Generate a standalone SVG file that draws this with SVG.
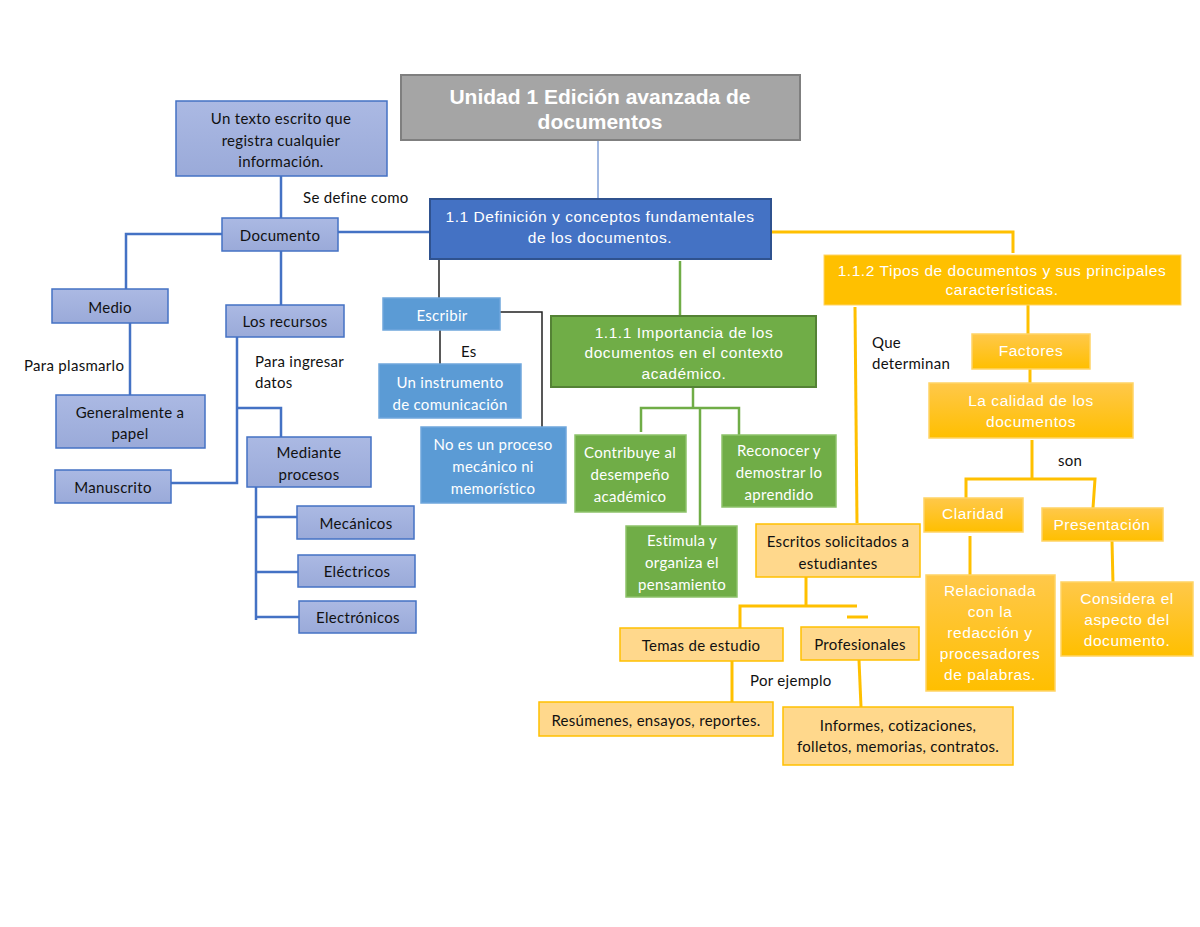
<svg xmlns="http://www.w3.org/2000/svg" width="1200" height="927" viewBox="0 0 1200 927">
<defs>
<linearGradient id="gb" x1="0" y1="0" x2="0" y2="1"><stop offset="0" stop-color="#abb9e3"/><stop offset="1" stop-color="#9aaad9"/></linearGradient>
<linearGradient id="gy" x1="0" y1="0" x2="0" y2="1"><stop offset="0" stop-color="#ffc84a"/><stop offset="1" stop-color="#ffbf00"/></linearGradient>
</defs>
<style>
.bp{fill:url(#gb);stroke:#4472c4;stroke-width:1.5}
.bl{fill:#5b9bd5;stroke:#6fa6dc;stroke-width:1.5}
.gr{fill:#70ad47;stroke:#8dc26a;stroke-width:1.5}
.yl{fill:url(#gy);stroke:#ffd466;stroke-width:1.5}
.lo{fill:#ffd88c;stroke:#ffc000;stroke-width:1.5}
.t{font-family:Lato,"Open Sans",sans-serif;font-size:15px;fill:#111;text-anchor:middle;letter-spacing:0.3px}
.tl{font-family:Lato,"Open Sans",sans-serif;font-size:15px;fill:#111;letter-spacing:0.3px}
.tw{font-family:Lato,"Open Sans",sans-serif;font-size:15px;fill:#fff;text-anchor:middle;letter-spacing:0.3px}
.ta{font-family:"Liberation Sans",Arial,sans-serif;font-size:15.5px;fill:#fff;text-anchor:middle;letter-spacing:0.55px}
.cb{stroke:#4472c4;stroke-width:2.5;fill:none}
.ck{stroke:#222;stroke-width:1.5;fill:none}
.cg{stroke:#70ad47;stroke-width:2.5;fill:none}
.cy{stroke:#ffc000;stroke-width:3;fill:none}
</style>
<rect width="1200" height="927" fill="#fff"/>
<g id="connectors">
<line x1="598" y1="141" x2="598" y2="199" stroke="#4472c4" stroke-width="1"/>
<line class="cb" x1="281" y1="176" x2="281" y2="218"/>
<line class="cb" x1="338" y1="232" x2="430" y2="232" stroke-width="3"/>
<polyline class="cb" points="222,234 126,234 126,289"/>
<line class="cb" x1="130" y1="323" x2="130" y2="395"/>
<line class="cb" x1="281" y1="251" x2="281" y2="305"/>
<polyline class="cb" points="237,337 237,483 171,483"/>
<polyline class="cb" points="237,408 281,408 281,437"/>
<line class="cb" x1="256" y1="487" x2="256" y2="620" stroke-width="3"/>
<line class="cb" x1="256" y1="517" x2="297" y2="517"/>
<line class="cb" x1="256" y1="572" x2="298" y2="572" stroke-width="3"/>
<line class="cb" x1="256" y1="617" x2="299" y2="617"/>
<line class="ck" x1="439" y1="259" x2="439" y2="298"/>
<line class="ck" x1="440" y1="330" x2="440" y2="364"/>
<polyline class="ck" points="494,312 542,312 542,427"/>
<line class="cg" x1="680" y1="261" x2="680" y2="316"/>
<line class="cg" x1="693" y1="387" x2="693" y2="408"/>
<polyline class="cg" points="641,432 641,408 739,408 739,435"/>
<line class="cg" x1="700" y1="408" x2="700" y2="526"/>
<polyline class="cy" points="771,232 1013,232 1013,253"/>
<line class="cy" x1="855" y1="307" x2="857" y2="523"/>
<line class="cy" x1="1028" y1="305" x2="1028" y2="334"/>
<line class="cy" x1="1030" y1="369" x2="1030" y2="383"/>
<line class="cy" x1="1032" y1="440" x2="1032" y2="479"/>
<polyline class="cy" points="966,498 966,479 1095,479 1093,508"/>
<line class="cy" x1="970" y1="536" x2="970" y2="575"/>
<line class="cy" x1="1112" y1="541" x2="1113" y2="584"/>
<line class="cy" x1="806" y1="577" x2="806" y2="606"/>
<polyline class="cy" points="740,628 740,606 857,606"/>
<line class="cy" x1="847" y1="617" x2="868" y2="617"/>
<line class="cy" x1="732" y1="661" x2="732" y2="702"/>
<line class="cy" x1="859" y1="660" x2="861" y2="707"/>
</g>
<g id="title">
<rect x="401" y="75" width="399" height="65" fill="#a5a5a5" stroke="#7f7f7f" stroke-width="2"/>
<text x="600" y="104" font-family="Liberation Sans,Arial,sans-serif" font-size="21" font-weight="bold" fill="#fff" text-anchor="middle">Unidad 1 Edición avanzada de</text>
<text x="600" y="129" font-family="Liberation Sans,Arial,sans-serif" font-size="21" font-weight="bold" fill="#fff" text-anchor="middle">documentos</text>
</g>
<g id="definicion">
<rect class="bp" x="176" y="101" width="211" height="75"/>
<text class="t" x="281" y="124">Un texto escrito que</text>
<text class="t" x="281" y="146">registra cualquier</text>
<text class="t" x="281" y="167">información.</text>
</g>
<text class="tl" x="303" y="203">Se define como</text>
<g id="documento">
<rect class="bp" x="222" y="218" width="116" height="33"/>
<text class="t" x="280" y="241">Documento</text>
</g>
<g id="medio">
<rect class="bp" x="52" y="289" width="116" height="34"/>
<text class="t" x="110" y="313">Medio</text>
</g>
<text class="tl" x="24" y="371">Para plasmarlo</text>
<g id="generalmente">
<rect class="bp" x="56" y="395" width="149" height="53"/>
<text class="t" x="130" y="418">Generalmente a</text>
<text class="t" x="130" y="439">papel</text>
</g>
<g id="manuscrito">
<rect class="bp" x="55" y="470" width="116" height="33"/>
<text class="t" x="113" y="493">Manuscrito</text>
</g>
<g id="recursos">
<rect class="bp" x="226" y="305" width="118" height="32"/>
<text class="t" x="285" y="327">Los recursos</text>
</g>
<text class="tl" x="255" y="367">Para ingresar</text>
<text class="tl" x="255" y="388">datos</text>
<g id="mediante">
<rect class="bp" x="247" y="437" width="124" height="50"/>
<text class="t" x="309" y="458">Mediante</text>
<text class="t" x="309" y="480">procesos</text>
</g>
<g id="mecanicos">
<rect class="bp" x="297" y="506" width="117" height="33"/>
<text class="t" x="356" y="529">Mecánicos</text>
</g>
<g id="electricos">
<rect class="bp" x="298" y="555" width="117" height="32"/>
<text class="t" x="357" y="577">Eléctricos</text>
</g>
<g id="electronicos">
<rect class="bp" x="299" y="601" width="117" height="32"/>
<text class="t" x="358" y="623">Electrónicos</text>
</g>
<g id="n11">
<rect x="430" y="199" width="341" height="60" fill="#4472c4" stroke="#2f528f" stroke-width="2"/>
<text class="ta" x="600" y="222">1.1 Definición y conceptos fundamentales</text>
<text class="ta" x="600" y="243">de los documentos.</text>
</g>
<g id="escribir">
<rect class="bl" x="383" y="298" width="117" height="32"/>
<text class="tw" x="442" y="321">Escribir</text>
</g>
<text class="tl" x="461" y="357">Es</text>
<g id="instrumento">
<rect class="bl" x="379" y="364" width="142" height="54"/>
<text class="tw" x="450" y="388">Un instrumento</text>
<text class="tw" x="450" y="410">de comunicación</text>
</g>
<g id="noes">
<rect class="bl" x="421" y="427" width="145" height="76"/>
<text class="tw" x="493" y="450">No es un proceso</text>
<text class="tw" x="493" y="472">mecánico ni</text>
<text class="tw" x="493" y="494">memorístico</text>
</g>
<g id="n111">
<rect x="551" y="316" width="265" height="71" fill="#70ad47" stroke="#548235" stroke-width="2"/>
<text class="ta" x="684" y="338">1.1.1 Importancia de los</text>
<text class="ta" x="684" y="358">documentos en el contexto</text>
<text class="ta" x="684" y="379">académico.</text>
</g>
<g id="contribuye">
<rect class="gr" x="575" y="435" width="111" height="77"/>
<text class="tw" x="630" y="458">Contribuye al</text>
<text class="tw" x="630" y="480">desempeño</text>
<text class="tw" x="630" y="502">académico</text>
</g>
<g id="reconocer">
<rect class="gr" x="722" y="435" width="114" height="72"/>
<text class="tw" x="779" y="456">Reconocer y</text>
<text class="tw" x="779" y="478">demostrar lo</text>
<text class="tw" x="779" y="500">aprendido</text>
</g>
<g id="estimula">
<rect class="gr" x="626" y="526" width="111" height="71"/>
<text class="tw" x="682" y="546">Estimula y</text>
<text class="tw" x="682" y="568">organiza el</text>
<text class="tw" x="682" y="590">pensamiento</text>
</g>
<g id="n112">
<rect x="824" y="255" width="357" height="50" fill="#ffc000" stroke="#ffd466" stroke-width="1"/>
<text class="ta" x="1002" y="276">1.1.2 Tipos de documentos y sus principales</text>
<text class="ta" x="1002" y="295">características.</text>
</g>
<text class="tl" x="872" y="348">Que</text>
<text class="tl" x="872" y="369">determinan</text>
<g id="factores">
<rect class="yl" x="972" y="334" width="118" height="35"/>
<text class="ta" x="1031" y="356">Factores</text>
</g>
<g id="calidad">
<rect class="yl" x="929" y="383" width="204" height="55"/>
<text class="ta" x="1031" y="406">La calidad de los</text>
<text class="ta" x="1031" y="427">documentos</text>
</g>
<text class="tl" x="1058" y="466">son</text>
<g id="claridad">
<rect class="yl" x="924" y="498" width="99" height="34"/>
<text class="ta" x="973" y="519">Claridad</text>
</g>
<g id="presentacion">
<rect class="yl" x="1042" y="508" width="121" height="33"/>
<text class="ta" x="1102" y="530">Presentación</text>
</g>
<g id="relacionada">
<rect class="yl" x="926" y="575" width="129" height="116"/>
<text class="ta" x="990" y="596">Relacionada</text>
<text class="ta" x="990" y="617">con la</text>
<text class="ta" x="990" y="638">redacción y</text>
<text class="ta" x="990" y="659">procesadores</text>
<text class="ta" x="990" y="680">de palabras.</text>
</g>
<g id="considera">
<rect class="yl" x="1061" y="582" width="132" height="74"/>
<text class="ta" x="1127" y="604">Considera el</text>
<text class="ta" x="1127" y="625">aspecto del</text>
<text class="ta" x="1127" y="646">documento.</text>
</g>
<g id="escritos">
<rect class="lo" x="756" y="524" width="164" height="53"/>
<text class="t" x="838" y="547">Escritos solicitados a</text>
<text class="t" x="838" y="569">estudiantes</text>
</g>
<g id="temas">
<rect class="lo" x="620" y="628" width="163" height="33"/>
<text class="t" x="701" y="651">Temas de estudio</text>
</g>
<g id="profesionales">
<rect class="lo" x="801" y="627" width="118" height="33"/>
<text class="t" x="860" y="650">Profesionales</text>
</g>
<text class="tl" x="750" y="686">Por ejemplo</text>
<g id="resumenes">
<rect class="lo" x="539" y="702" width="234" height="34"/>
<text class="t" x="656" y="726">Resúmenes, ensayos, reportes.</text>
</g>
<g id="informes">
<rect class="lo" x="783" y="707" width="230" height="58"/>
<text class="t" x="898" y="731">Informes, cotizaciones,</text>
<text class="t" x="898" y="752">folletos, memorias, contratos.</text>
</g>
</svg>
